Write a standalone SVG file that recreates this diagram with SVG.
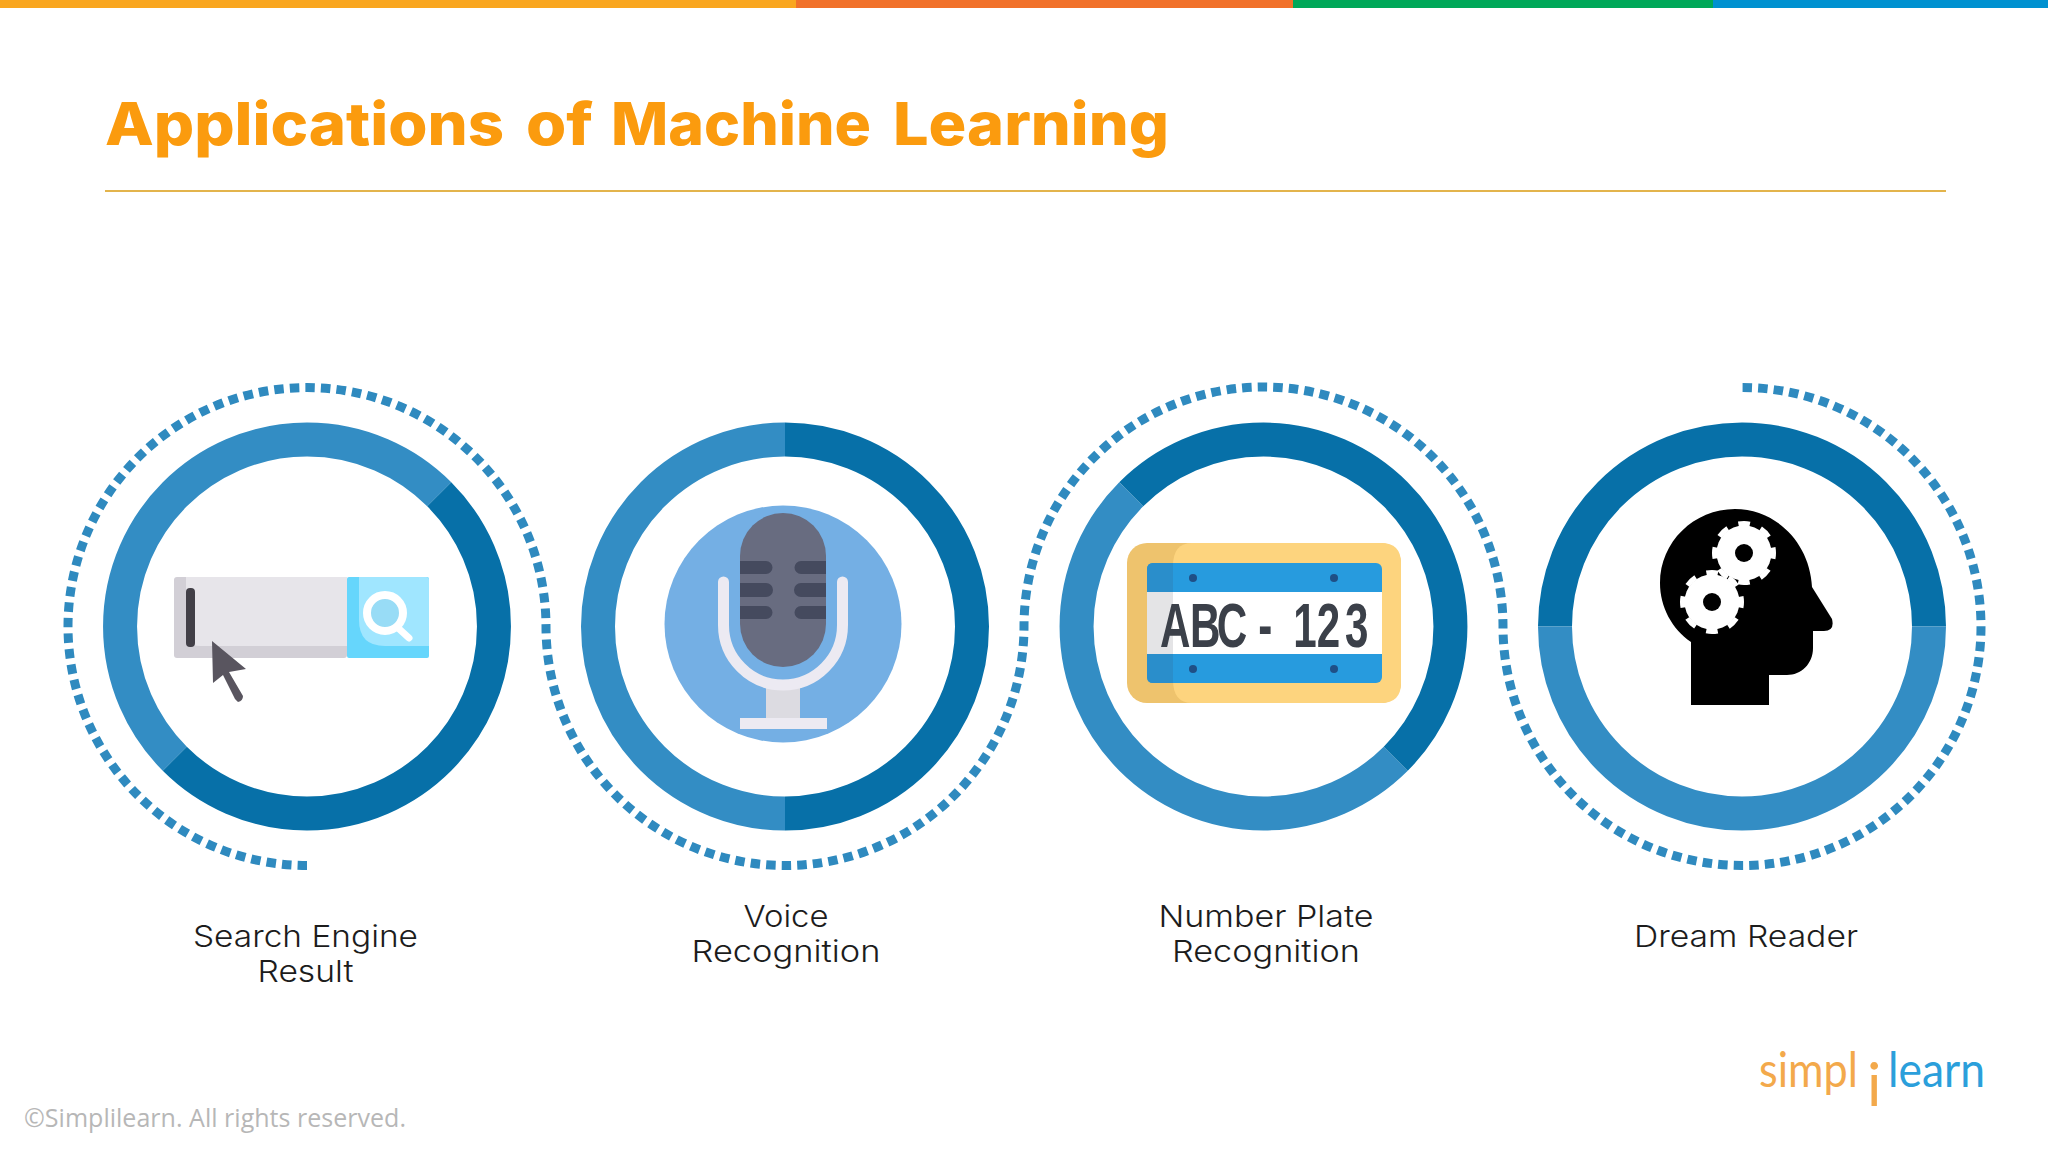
<svg xmlns="http://www.w3.org/2000/svg" width="2048" height="1152" viewBox="0 0 2048 1152">
  <style>
    .light { fill: none; stroke: #338dc4; stroke-width: 34; }
    .dark { fill: none; stroke: #0770a8; stroke-width: 34; }
    .dots { fill: none; stroke: #2f8abf; stroke-width: 9; stroke-dasharray: 9.5 6.1; }
    .label { font-family: Inter, "Open Sans", "Liberation Sans", sans-serif; font-weight: 300; font-size: 30px; fill: #1c1c1c; }
    .title { font-family: Inter, "Liberation Sans", sans-serif; font-weight: 800; font-size: 59px; fill: #fb9b0e; }
    .logo { font-family: Lato, "Open Sans", "Liberation Sans", sans-serif; font-weight: 400; font-size: 48px; }
  </style>
  <defs>
    <g id="gear">
      <circle r="27.5" fill="#fff"/>
      <circle r="29.5" fill="none" stroke="#fff" stroke-width="5" stroke-dasharray="11.58 11.58" stroke-dashoffset="5.79"/>
      <circle r="9" fill="#000"/>
    </g>
  </defs>
  <rect width="2048" height="1152" fill="#fff"/>
  <g id="top-bar">
    <rect x="0" y="0" width="796" height="8" fill="#f9a61f"/>
    <rect x="796" y="0" width="497" height="8" fill="#f1712a"/>
    <rect x="1293" y="0" width="420" height="8" fill="#00a859"/>
    <rect x="1713" y="0" width="335" height="8" fill="#0091d0"/>
  </g>
  <g id="header">
    <text class="title" y="145"><tspan x="105" textLength="399" lengthAdjust="spacingAndGlyphs">Applications</tspan> <tspan x="526" textLength="67" lengthAdjust="spacingAndGlyphs">of</tspan> <tspan x="611" textLength="260" lengthAdjust="spacingAndGlyphs">Machine</tspan> <tspan x="893" textLength="276" lengthAdjust="spacingAndGlyphs">Learning</tspan></text>
    <rect x="105" y="190" width="1841" height="2" fill="#e3b44c"/>
  </g>
  <g id="connectors">
    <path class="dots" d="M307,865.5 A239,239 0 0 1 68,626.5 A239,239 0 0 1 546,626.5 A239,239 0 0 0 1024,626.5 A239,239 0 0 1 1503,626.5 A239,239 0 0 0 1981,626.5 A239,239 0 0 0 1742,387.5"/>
  </g>
  <g id="node-search">
    <path class="light" d="M174.77,758.73 A180,180 0 0 1 439.23,494.27"/>
    <path class="dark" d="M439.23,494.27 A180,180 0 0 1 174.77,758.73"/>
    <rect x="174" y="577" width="173" height="81" rx="3" fill="#d2cfd6"/>
    <path d="M186,577 H347 V646 H200 Q186,646 186,632 Z" fill="#e7e5ea"/>
    <rect x="347" y="577" width="82" height="81" rx="2" fill="#66d6fc"/>
    <path d="M359,577 H426 Q429,577 429,580 V646 H385 Q359,646 359,620 Z" fill="#a0e6ff"/>
    <rect x="186" y="588" width="9" height="59" rx="4" fill="#423f47"/>
    <circle cx="385" cy="613" r="18" fill="#98dcf6" stroke="#fff" stroke-width="8"/>
    <line x1="397" y1="627" x2="409" y2="638" stroke="#fff" stroke-width="7" stroke-linecap="round"/>
    <path d="M212,641 L246,669 L229,672 L243,696 Q243,701 238,702 L235,699 L223,675 L213,683 Z" fill="#59555f"/>
  </g>
  <g id="node-voice">
    <path class="light" d="M785,813.5 A187,187 0 0 1 785,439.5"/>
    <path class="dark" d="M785,439.5 A187,187 0 0 1 785,813.5"/>
    <circle cx="783" cy="624" r="118.5" fill="#74afe4"/>
    <rect x="740" y="513" width="86" height="154" rx="43" fill="#686c80"/>
    <path d="M740,561 H766 A6.5,6.5 0 0 1 766,574 H740 Z M740,583 H766 A6.5,6.5 0 0 1 766,597 H740 Z M740,606 H766 A6.5,6.5 0 0 1 766,619 H740 Z M826,561 H801 A6.5,6.5 0 0 0 801,574 H826 Z M826,583 H801 A6.5,6.5 0 0 0 801,597 H826 Z M826,606 H801 A6.5,6.5 0 0 0 801,619 H826 Z" fill="#454a5e"/>
    <rect x="766" y="686" width="34" height="34" fill="#dcdbe1"/>
    <path d="M723.5,582 V625 A59.5,60 0 0 0 842.5,625 V582" fill="none" stroke="#eceaf2" stroke-width="11" stroke-linecap="round"/>
    <rect x="740" y="718" width="87" height="11" fill="#eceaf2"/>
  </g>
  <g id="node-plate">
    <path class="light" d="M1131.27,494.27 A180,180 0 0 0 1395.73,758.73"/>
    <path class="dark" d="M1131.27,494.27 A180,180 0 0 1 1395.73,758.73"/>
    <rect x="1127" y="543" width="274" height="160" rx="20" fill="#eec36d"/>
    <path d="M1192,543 H1381 Q1401,543 1401,563 V683 Q1401,703 1381,703 H1192 Q1173,703 1173,680 V566 Q1173,543 1192,543 Z" fill="#fdd47e"/>
    <rect x="1147" y="563" width="235" height="120" rx="6" fill="#279bde"/>
    <path d="M1153,563 H1173 V683 H1153 Q1147,683 1147,677 V569 Q1147,563 1153,563 Z" fill="#2a8ecb"/>
    <rect x="1147" y="592" width="235" height="62" fill="#fff"/>
    <rect x="1147" y="592" width="26" height="62" fill="#e4e4e6"/>
    <circle cx="1193" cy="578" r="4" fill="#1f4f86"/>
    <circle cx="1334" cy="578" r="4" fill="#1f4f86"/>
    <circle cx="1193" cy="669" r="4" fill="#1f4f86"/>
    <circle cx="1334" cy="669" r="4" fill="#1f4f86"/>
    <text transform="translate(1160,647) scale(0.68,1)" x="0 44.1 83.3 127 144.6 185 196 230.4 272" y="0" font-family="'Liberation Sans Narrow', 'Liberation Sans', sans-serif" font-weight="700" font-size="62" fill="#3b4049">ABC - 123</text>
  </g>
  <g id="node-dream">
    <path class="dark" d="M1555,626.5 A187,187 0 0 1 1929,626.5"/>
    <path class="light" d="M1555,626.5 A187,187 0 0 0 1929,626.5"/>
    <path d="M1691,705 V642 C1672,629 1660,607 1660,583 C1660,542 1694,509 1735,509 C1776,509 1810,543 1812,587 L1832,619 Q1835,631 1824,631 H1813 V648 C1813,664 1801,675 1787,675 H1769 V705 Z" fill="#000"/>
    <use href="#gear" x="1744" y="553"/>
    <use href="#gear" x="1712" y="602"/>
  </g>
  <g id="labels">
    <text class="label" text-anchor="middle" x="305.5" y="947" textLength="225" lengthAdjust="spacingAndGlyphs">Search Engine</text>
    <text class="label" text-anchor="middle" x="305.5" y="982" textLength="96" lengthAdjust="spacingAndGlyphs">Result</text>
    <text class="label" text-anchor="middle" x="786" y="927" textLength="85" lengthAdjust="spacingAndGlyphs">Voice</text>
    <text class="label" text-anchor="middle" x="786" y="962" textLength="189" lengthAdjust="spacingAndGlyphs">Recognition</text>
    <text class="label" text-anchor="middle" x="1266" y="927" textLength="215" lengthAdjust="spacingAndGlyphs">Number Plate</text>
    <text class="label" text-anchor="middle" x="1266" y="962" textLength="188" lengthAdjust="spacingAndGlyphs">Recognition</text>
    <text class="label" text-anchor="middle" x="1746" y="947" textLength="224" lengthAdjust="spacingAndGlyphs">Dream Reader</text>
  </g>
  <g id="footer">
    <text x="24" y="1127" font-family="'Open Sans', 'Liberation Sans', sans-serif" font-size="25" fill="#b7b7b7" textLength="382">©Simplilearn. All rights reserved.</text>
  </g>
  <g id="logo">
    <text class="logo" x="1759" y="1087" fill="#f3a94b" textLength="99" lengthAdjust="spacingAndGlyphs">simpl</text>
    <text class="logo" x="1867" y="1106" fill="#f3a94b" style="font-size:60px">i</text>
    <text class="logo" x="1888" y="1087" fill="#2b9fdb" textLength="97" lengthAdjust="spacingAndGlyphs">learn</text>
  </g>
</svg>
